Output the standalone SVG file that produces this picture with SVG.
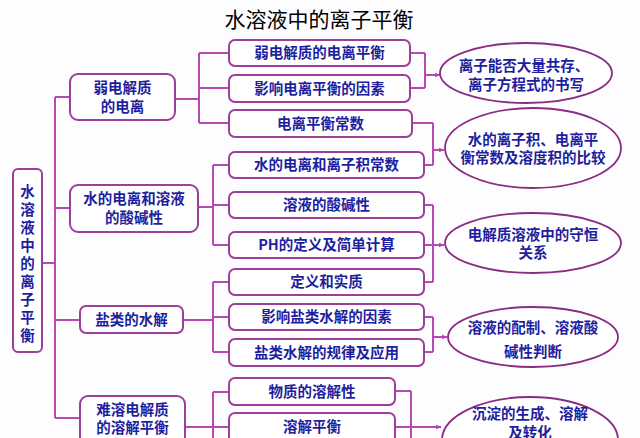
<svg xmlns="http://www.w3.org/2000/svg" width="640" height="438" viewBox="0 0 640 438">
<style>
.bg{fill:#fdfcfe}
.box{fill:#ffffff;stroke:#9c3f98;stroke-width:2}
.ell{fill:#ffffff;stroke:#8a2c80;stroke-width:1.8}
.ln{fill:none;stroke:#b848b4;stroke-width:2}
.t{font-family:"Noto Sans CJK SC","Noto Sans",sans-serif;font-weight:bold;fill:#1e1e9e;text-anchor:middle;font-size:14.5px}
.tr{font-family:"Noto Sans CJK SC","Noto Sans",sans-serif;font-weight:bold;fill:#1e1e9e;text-anchor:middle;font-size:14.5px}
.te{font-family:"Noto Sans CJK SC","Noto Sans",sans-serif;font-weight:bold;fill:#1e1e9e;text-anchor:middle;font-size:14.5px}
.title{font-family:"Noto Sans CJK SC",sans-serif;font-size:21px;fill:#000;text-anchor:middle}
</style>
<defs>
<marker id="ah" viewBox="0 0 10 10" refX="9" refY="5" markerWidth="6" markerHeight="6" orient="auto" markerUnits="userSpaceOnUse">
<path d="M0,1 L10,5 L0,9 Z" fill="#c040b8"/>
</marker>
</defs>
<rect class="bg" x="0" y="0" width="640" height="438"/>
<text class="title" x="319" y="27">水溶液中的离子平衡</text>

<g id="connectors">
<path class="ln" d="M42,263 H55 M55,97 V418 M55,97 H70 M55,208 H70 M55,320 H80 M55,418 H80"/>
<path class="ln" d="M175,99 H199 M199,53 V123 M199,53 H229 M199,88 H229 M199,123 H229"/>
<path class="ln" d="M198,207 H213 M213,165 V245 M213,165 H229 M213,205 H229 M213,245 H229"/>
<path class="ln" d="M183,320 H213 M213,282 V352 M213,282 H229 M213,317 H229 M213,352 H229"/>
<path class="ln" d="M185,427 H213 M213,392 V438 M213,392 H229 M213,427 H229"/>
<path class="ln" d="M410,53 H425 M410,88 H425 M425,53 V88"/>
<path class="ln" d="M425,75 H440" marker-end="url(#ah)"/>
<path class="ln" d="M412,123 H433 M424,165 H433 M433,123 V165"/>
<path class="ln" d="M433,150 H444" marker-end="url(#ah)"/>
<path class="ln" d="M424,205 H433 M424,245 H433 M424,282 H433 M433,205 V282"/>
<path class="ln" d="M433,245 H444" marker-end="url(#ah)"/>
<path class="ln" d="M424,317 H433 M424,352 H433 M433,317 V352"/>
<path class="ln" d="M433,337 H447" marker-end="url(#ah)"/>
<path class="ln" d="M395,391 H411 M411,391 V438"/>
<path class="ln" d="M395,427 H441" marker-end="url(#ah)"/>
</g>

<g id="root">
<rect class="box" x="13" y="169" width="29" height="183" rx="5"/>
<text class="tr">
<tspan x="27.5" y="197">水</tspan><tspan x="27.5" y="215">溶</tspan><tspan x="27.5" y="233">液</tspan><tspan x="27.5" y="251">中</tspan><tspan x="27.5" y="269">的</tspan><tspan x="27.5" y="287">离</tspan><tspan x="27.5" y="305">子</tspan><tspan x="27.5" y="323">平</tspan><tspan x="27.5" y="341">衡</tspan>
</text>
</g>

<g id="n1">
<rect class="box" x="70" y="74" width="105" height="46" rx="8"/>
<text class="t"><tspan x="122.5" y="93">弱电解质</tspan><tspan x="122.5" y="112">的电离</tspan></text>
</g>
<g id="n2">
<rect class="box" x="70" y="185" width="128" height="47" rx="8"/>
<text class="t"><tspan x="134" y="204">水的电离和溶液</tspan><tspan x="134" y="223">的酸碱性</tspan></text>
</g>
<g id="n3">
<rect class="box" x="80" y="306" width="103" height="27" rx="6"/>
<text class="t" x="131.5" y="324.5">盐类的水解</text>
</g>
<g id="n4">
<rect class="box" x="80" y="396" width="105" height="50" rx="8"/>
<text class="t"><tspan x="132.5" y="415">难溶电解质</tspan><tspan x="132.5" y="433">的溶解平衡</tspan></text>
</g>

<g id="b1"><rect class="box" x="229" y="40" width="181" height="26" rx="6"/><text class="t" x="319.5" y="58">弱电解质的电离平衡</text></g>
<g id="b2"><rect class="box" x="229" y="75" width="181" height="27" rx="6"/><text class="t" x="319.5" y="93.5">影响电离平衡的因素</text></g>
<g id="b3"><rect class="box" x="229" y="110" width="183" height="27" rx="6"/><text class="t" x="320.5" y="128.5">电离平衡常数</text></g>
<g id="b4"><rect class="box" x="229" y="152" width="195" height="26" rx="6"/><text class="t" x="326.5" y="170">水的电离和离子积常数</text></g>
<g id="b5"><rect class="box" x="229" y="192" width="195" height="26" rx="6"/><text class="t" x="326.5" y="210">溶液的酸碱性</text></g>
<g id="b6"><rect class="box" x="229" y="232" width="195" height="26" rx="6"/><text class="t" x="326.5" y="250">PH的定义及简单计算</text></g>
<g id="b7"><rect class="box" x="229" y="269" width="195" height="26" rx="6"/><text class="t" x="326.5" y="287">定义和实质</text></g>
<g id="b8"><rect class="box" x="229" y="304" width="195" height="26" rx="6"/><text class="t" x="326.5" y="322">影响盐类水解的因素</text></g>
<g id="b9"><rect class="box" x="229" y="339" width="195" height="27" rx="6"/><text class="t" x="326.5" y="357.5">盐类水解的规律及应用</text></g>
<g id="b10"><rect class="box" x="229" y="378" width="166" height="27" rx="6"/><text class="t" x="312" y="396.5">物质的溶解性</text></g>
<g id="b11"><rect class="box" x="229" y="413" width="166" height="30" rx="6"/><text class="t" x="312" y="432">溶解平衡</text></g>

<g id="e1"><ellipse class="ell" cx="526" cy="73" rx="86" ry="30"/><text class="te"><tspan x="524" y="71">离子能否大量共存、</tspan><tspan x="526" y="90">离子方程式的书写</tspan></text></g>
<g id="e2"><ellipse class="ell" cx="533" cy="148" rx="88" ry="40"/><text class="te"><tspan x="533" y="145">水的离子积、电离平</tspan><tspan x="533" y="163">衡常数及溶度积的比较</tspan></text></g>
<g id="e3"><ellipse class="ell" cx="533" cy="243" rx="88" ry="30"/><text class="te"><tspan x="533" y="240">电解质溶液中的守恒</tspan><tspan x="533" y="258">关系</tspan></text></g>
<g id="e4"><ellipse class="ell" cx="533" cy="337" rx="85" ry="30"/><text class="te"><tspan x="533" y="333">溶液的配制、溶液酸</tspan><tspan x="533" y="357">碱性判断</tspan></text></g>
<g id="e5"><ellipse class="ell" cx="530" cy="440" rx="88" ry="43"/><text class="te"><tspan x="530" y="419">沉淀的生成、溶解</tspan><tspan x="530" y="438">及转化</tspan></text></g>
</svg>
